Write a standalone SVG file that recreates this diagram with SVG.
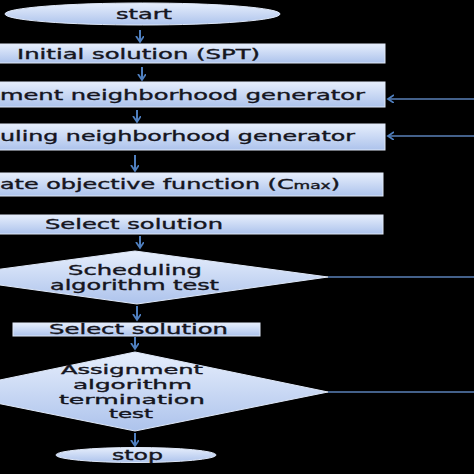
<svg xmlns="http://www.w3.org/2000/svg" width="474" height="474" viewBox="0 0 474 474">
<defs>
<linearGradient id="g" x1="0" y1="0" x2="0" y2="1">
<stop offset="0" stop-color="#e6eefc"/>
<stop offset="1" stop-color="#adc3ec"/>
</linearGradient>
<marker id="ah" markerWidth="10" markerHeight="10" refX="6" refY="4" orient="auto" markerUnits="userSpaceOnUse">
<path d="M0,0 L6,4 L0,8" fill="none" stroke="#4f7fbf" stroke-width="1.8"/>
</marker>
<style>
.s{fill:url(#g);stroke:#dfe8f8;stroke-width:1}
.t{font-family:"DejaVu Sans",Verdana,sans-serif;font-size:14px;fill:#151520;stroke:#151520;stroke-width:0.35}
.d{font-size:12.5px}
.c{stroke:#4f7fbf;stroke-width:2;fill:none}
.l{stroke:#5a80b8;stroke-width:1.3;fill:none}
</style>
</defs>
<rect width="474" height="474" fill="#000"/>
<g id="connectors">
<line class="c" x1="140" y1="30" x2="140" y2="42" marker-end="url(#ah)"/>
<line class="c" x1="142" y1="67" x2="142" y2="80" marker-end="url(#ah)"/>
<line class="c" x1="137" y1="110" x2="137" y2="122" marker-end="url(#ah)"/>
<line class="c" x1="135" y1="155" x2="135" y2="171" marker-end="url(#ah)"/>
<line class="c" x1="140" y1="236" x2="140" y2="248" marker-end="url(#ah)"/>
<line class="c" x1="137" y1="306" x2="137" y2="320" marker-end="url(#ah)"/>
<line class="c" x1="135" y1="337" x2="135" y2="349" marker-end="url(#ah)"/>
<line class="c" x1="135" y1="433" x2="135" y2="446" marker-end="url(#ah)"/>
<line class="l" x1="474" y1="99" x2="388" y2="99" marker-end="url(#ah)"/>
<line class="l" x1="474" y1="136" x2="388" y2="136" marker-end="url(#ah)"/>
<line class="l" x1="328" y1="277" x2="474" y2="277"/>
<line class="l" x1="328" y1="392" x2="474" y2="392"/>
</g>
<g id="start">
<ellipse class="s" cx="142.5" cy="14" rx="137.5" ry="11"/>
<text class="t" x="116" y="19" textLength="56" lengthAdjust="spacingAndGlyphs">start</text>
</g>
<g id="initial">
<rect class="s" x="-5" y="44" width="390" height="19"/>
<text class="t" x="17" y="59" textLength="243" lengthAdjust="spacingAndGlyphs">Initial solution (SPT)</text>
</g>
<g id="assign-gen">
<rect class="s" x="-5" y="82" width="390" height="25"/>
<text class="t" x="0" y="100" textLength="365" lengthAdjust="spacingAndGlyphs">ment neighborhood generator</text>
</g>
<g id="sched-gen">
<rect class="s" x="-5" y="124" width="390" height="26"/>
<text class="t" x="0" y="141" textLength="355" lengthAdjust="spacingAndGlyphs">uling neighborhood generator</text>
</g>
<g id="objective">
<rect class="s" x="-5" y="173" width="388" height="23"/>
<text class="t" x="0" y="189" textLength="340" lengthAdjust="spacingAndGlyphs">ate objective function (C<tspan font-size="10">max</tspan>)</text>
</g>
<g id="select1">
<rect class="s" x="-5" y="215" width="388" height="19"/>
<text class="t" x="45" y="229" textLength="178" lengthAdjust="spacingAndGlyphs">Select solution</text>
</g>
<g id="sched-test">
<polygon class="s" points="135,251 328,277 137,304 -58,277"/>
<text class="t" x="68" y="275" textLength="134" lengthAdjust="spacingAndGlyphs">Scheduling</text>
<text class="t" x="50" y="290" textLength="169" lengthAdjust="spacingAndGlyphs">algorithm test</text>
</g>
<g id="select2">
<rect class="s" x="13" y="323" width="247" height="13"/>
<text class="t" x="49" y="334" textLength="179" lengthAdjust="spacingAndGlyphs">Select solution</text>
</g>
<g id="assign-test">
<polygon class="s" points="135,352 328,392 135,431 -58,392"/>
<text class="t d" x="61" y="374" textLength="142" lengthAdjust="spacingAndGlyphs">Assignment</text>
<text class="t d" x="73" y="389" textLength="119" lengthAdjust="spacingAndGlyphs">algorithm</text>
<text class="t d" x="59" y="404" textLength="146" lengthAdjust="spacingAndGlyphs">termination</text>
<text class="t d" x="109" y="418" textLength="44" lengthAdjust="spacingAndGlyphs">test</text>
</g>
<g id="stop">
<ellipse class="s" cx="136" cy="455" rx="80" ry="7.5"/>
<text class="t" x="112" y="460" textLength="51" lengthAdjust="spacingAndGlyphs">stop</text>
</g>
</svg>
